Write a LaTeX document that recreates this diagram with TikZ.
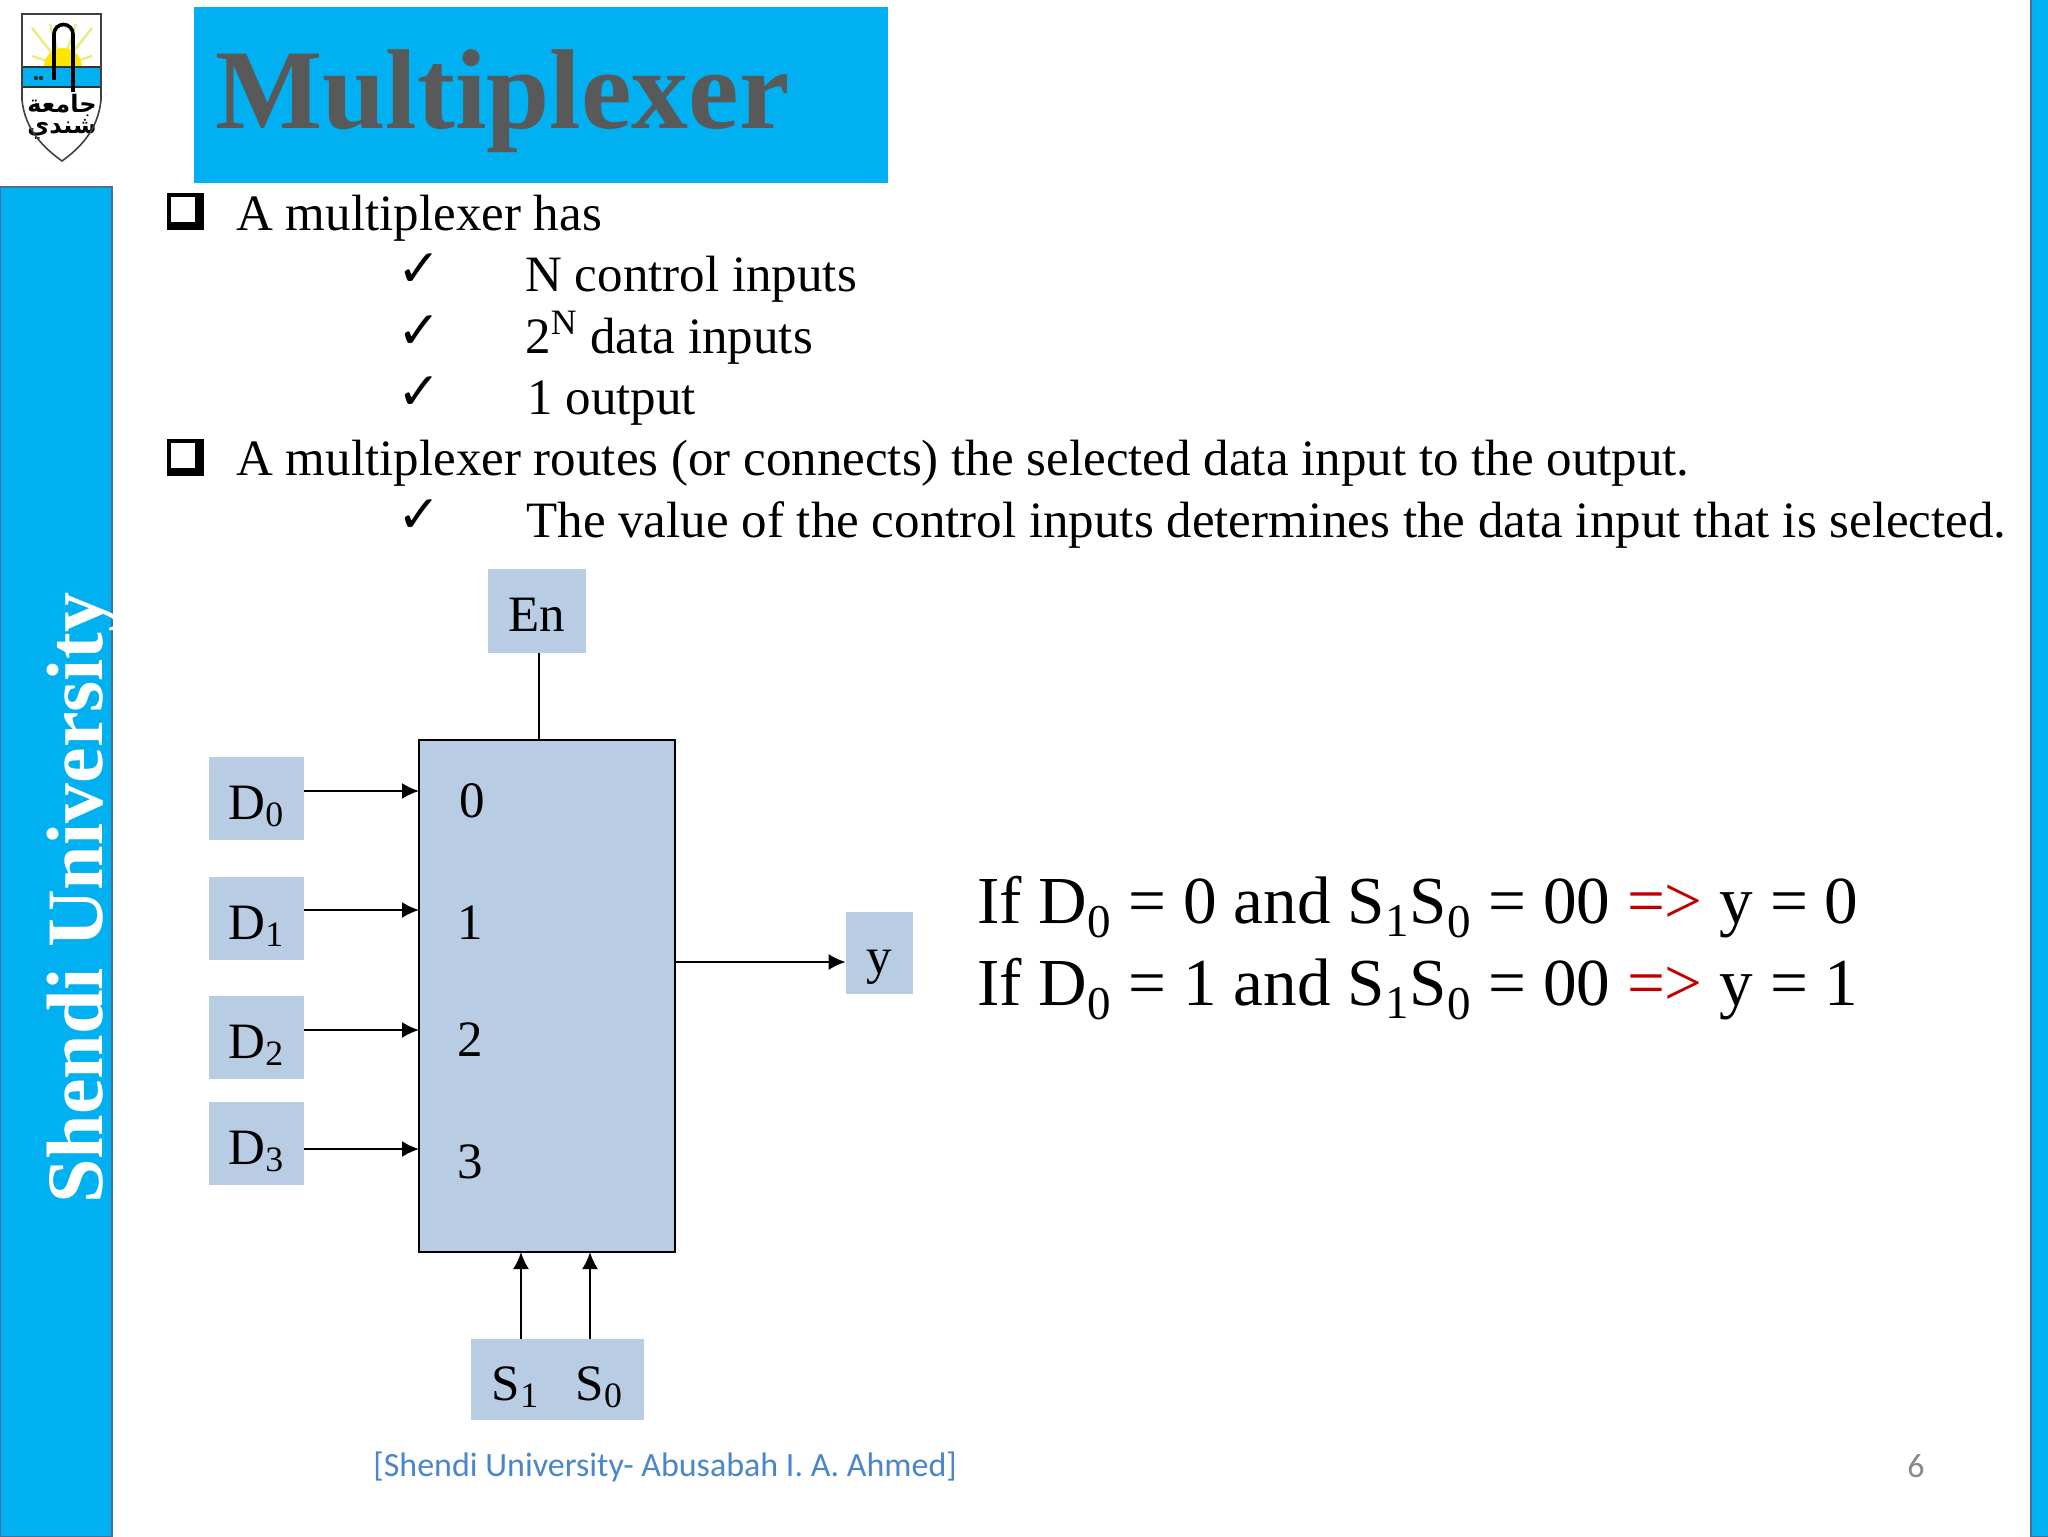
\documentclass[tikz,border=0pt]{standalone}
\usepackage{fontspec}
\setmainfont{Liberation Serif}
\newfontfamily\footfont{Carlito}
\newfontfamily\checkfont{DejaVu Sans}
\newfontfamily\arabicfont[Script=Arabic]{DejaVu Sans}
\TeXXeTstate=1
\usepackage{tikz}
\usetikzlibrary{arrows.meta}
\tikzset{>={Latex[length=8.5pt, width=8pt]}}
\definecolor{bandblue}{HTML}{00B0F0}
\definecolor{edgeblue}{HTML}{41719C}
\definecolor{boxblue}{HTML}{B8CCE4}
\definecolor{titlegray}{HTML}{595959}
\definecolor{footblue}{HTML}{4A86C8}
\definecolor{numgray}{HTML}{898989}
\definecolor{arrowred}{HTML}{C00000}
\definecolor{sunyellow}{HTML}{FFE600}
\definecolor{rayyellow}{HTML}{E6EE80}
\newcommand{\chk}{{\checkfont\char"2713}}
\tikzset{
    bodytext/.style={anchor=base west, inner sep=0pt, font=\fontsize{25.5}{30}\selectfont},
    ticktext/.style={anchor=base west, inner sep=0pt, font=\fontsize{26}{30}\selectfont},
    portbox/.style={fill=boxblue, inner sep=0pt, text height=20.5pt, text depth=0pt, font=\fontsize{25.5}{28}\selectfont},
    portnum/.style={inner sep=0pt, font=\fontsize{25.5}{28}\selectfont},
    bigtext/.style={anchor=base west, inner sep=0pt, font=\fontsize{33.6}{38}\selectfont},
    wire/.style={line width=1pt}
}

\begin{document}
\begin{tikzpicture}[x=0.5pt, y=-0.5pt]
            \useasboundingbox (0, 0) rectangle (2048, 1536);

            % side bands and title
            \filldraw[fill=bandblue, draw=edgeblue, line width=0.8pt] (0, 187) rectangle (112, 1537);
            \filldraw[fill=bandblue, draw=edgeblue, line width=0.8pt] (2031, -1) rectangle (2049, 1537);
            \fill[bandblue] (194, 7) rectangle (888, 183);
            \node [anchor=base west, inner sep=0pt, text=titlegray, font=\fontsize{56.8}{64}\selectfont\bfseries] (title) at (215, 128) {Multiplexer};
            \node [anchor=base west, inner sep=0pt, rotate=90, text=white, font=\fontsize{40}{46}\selectfont\bfseries] (side) at (102, 1204) {Shendi University};

            % logo
            \fill[white] (22, 14) -- (101, 14) -- (101, 100) .. controls (98, 130) and (80, 148) .. (62, 161) .. controls (44, 148) and (25, 130) .. (22, 100) -- cycle;
            \draw[rayyellow, line width=1.2pt] (62, 66) -- (32, 28);
            \draw[rayyellow, line width=1.2pt] (62, 66) -- (92, 28);
            \draw[rayyellow, line width=1.2pt] (62, 66) -- (32, 56);
            \draw[rayyellow, line width=1.2pt] (62, 66) -- (92, 56);
            \draw[rayyellow, line width=1.2pt] (62, 66) -- (50, 24);
            \draw[rayyellow, line width=1.2pt] (62, 66) -- (76, 24);
            \fill[sunyellow] (44, 67) arc[start angle=180, end angle=360, radius=19] -- cycle;
            \fill[bandblue] (23, 67) rectangle (100, 87);
            \fill[black!80] (36, 78) circle[radius=2.2];
            \fill[black!80] (41, 78) circle[radius=2.2];
            \draw[black!80, line width=0.8pt] (23, 67) -- (100, 67);
            \draw[black!80, line width=1.2pt] (23, 87) -- (100, 87);
            \draw[black, line width=1.8pt] (54, 80) -- (54, 34) arc[start angle=180, end angle=360, radius=9.5] -- (73, 92);
            \node [inner sep=0pt, font=\fontsize{12}{13}\selectfont\bfseries] (logoa) at (62, 105) {\arabicfont\beginR جامعة\endR};
            \node [inner sep=0pt, font=\fontsize{12}{13}\selectfont\bfseries] (logob) at (62, 129) {\arabicfont\beginR شندي\endR};
            \draw[black!75, line width=0.8pt] (22, 14) -- (101, 14) -- (101, 100) .. controls (98, 130) and (80, 148) .. (62, 161) .. controls (44, 148) and (25, 130) .. (22, 100) -- cycle;

            % bullets
            \fill[black] (167, 193) rectangle (204, 230);
            \fill[white] (170.5, 197) rectangle (195, 222);
            \fill[black] (167, 439) rectangle (204, 476);
            \fill[white] (170.5, 443) rectangle (195, 468);

            \node [bodytext] (line1) at (236, 230) {A multiplexer has};
            \node [bodytext] (line2) at (525, 291) {N control inputs};
            \node [bodytext] (line3) at (525, 353) {2\textsuperscript{N} data inputs};
            \node [bodytext] (line4) at (527, 414) {1 output};
            \node [bodytext] (line5) at (236, 475) {A multiplexer routes (or connects) the selected data input to the output.};
            \node [bodytext] (line6) at (526, 537) {The value of the control inputs determines the data input that is selected.};
            \node [ticktext] (tick2) at (397, 286) {\chk};
            \node [ticktext] (tick3) at (397, 348) {\chk};
            \node [ticktext] (tick4) at (397, 409) {\chk};
            \node [ticktext] (tick6) at (397, 532) {\chk};

            % multiplexer block
            \node [draw=black, line width=0.8pt, fill=boxblue, minimum width=256*0.5pt, minimum height=512*0.5pt, inner sep=0pt] (mux) at (547, 996) {};
            \node [portnum] (num0) at (472, 801) {0};
            \node [portnum] (num1) at (470, 923) {1};
            \node [portnum] (num2) at (470, 1040) {2};
            \node [portnum] (num3) at (470, 1162) {3};

            \node [portbox, minimum width=98*0.5pt, minimum height=84*0.5pt] (en) at (537, 611) {En};
            \node [portbox, minimum width=95*0.5pt, minimum height=83*0.5pt] (d0) at (256.5, 798.5) {D\textsubscript{0}};
            \node [portbox, minimum width=95*0.5pt, minimum height=83*0.5pt] (d1) at (256.5, 918.5) {D\textsubscript{1}};
            \node [portbox, minimum width=95*0.5pt, minimum height=83*0.5pt] (d2) at (256.5, 1037.5) {D\textsubscript{2}};
            \node [portbox, minimum width=95*0.5pt, minimum height=83*0.5pt] (d3) at (256.5, 1143.5) {D\textsubscript{3}};
            \node [portbox, minimum width=67*0.5pt, minimum height=82*0.5pt] (yout) at (879.5, 953) {y};
            \node [portbox, minimum width=173*0.5pt, minimum height=81*0.5pt] (sel) at (557.5, 1379.5) {S\textsubscript{1}\hspace{0.72em}S\textsubscript{0}};

            \coordinate (in0) at (419, 791);
            \coordinate (in1) at (419, 910);
            \coordinate (in2) at (419, 1030);
            \coordinate (in3) at (419, 1149);
            \coordinate (out) at (675, 962);
            \coordinate (s1) at (521, 1252);
            \coordinate (s0) at (590, 1252);
            \coordinate (enable) at (539, 740);

            \draw[wire, ->] (d0.east |- in0) -- (in0);
            \draw[wire, ->] (d1.east |- in1) -- (in1);
            \draw[wire, ->] (d2.east |- in2) -- (in2);
            \draw[wire, ->] (d3.east |- in3) -- (in3);
            \draw[wire, ->] (out) -- (yout.west |- out);
            \draw[wire, ->] (s1 |- sel.north) -- (s1);
            \draw[wire, ->] (s0 |- sel.north) -- (s0);
            \draw[wire] (enable |- en.south) -- (enable);

            % the two results
            \node [bigtext] (res1) at (977, 923) {If D\textsubscript{0} = 0 and S\textsubscript{1}S\textsubscript{0} = 00 {\color{arrowred}=>} y = 0};
            \node [bigtext] (res2) at (977, 1005) {If D\textsubscript{0} = 1 and S\textsubscript{1}S\textsubscript{0} = 00 {\color{arrowred}=>} y = 1};

            % footer
            \node [anchor=base west, inner sep=0pt, text=footblue, font=\footfont\fontsize{17}{19}\selectfont] (foot) at (373, 1476) {[Shendi University- Abusabah I. A. Ahmed]};
            \node [inner sep=0pt, text=numgray, font=\footfont\fontsize{17}{19}\selectfont] (page) at (1916, 1466) {6};
        \end{tikzpicture}
\end{document}
